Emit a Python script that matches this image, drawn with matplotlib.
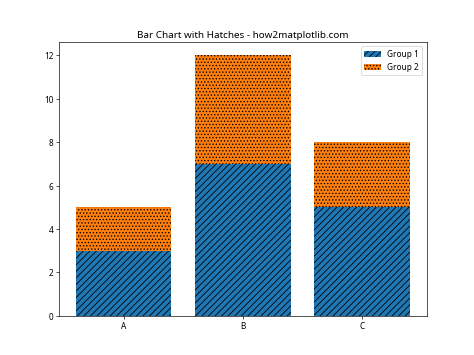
import matplotlib
matplotlib.use("Agg")
import matplotlib.pyplot as plt

# 参考图的字形更接近 Segoe UI，用 Noto Sans 近似
plt.rcParams["font.family"] = ["Noto Sans", "DejaVu Sans"]

categories = ["A", "B", "C"]
group1_values = [3, 7, 5]
group2_values = [2, 5, 3]

# 参考图像是 8x6 英寸的图缩小到 474x355
fig, ax = plt.subplots(figsize=(8, 6), dpi=59.25)

ax.bar(categories, group1_values, hatch="///", label="Group 1")
ax.bar(categories, group2_values, bottom=group1_values, hatch="...", label="Group 2")

ax.set_title("Bar Chart with Hatches - how2matplotlib.com")
ax.legend()

plt.savefig("out.png", dpi=59.25)
plt.close()
